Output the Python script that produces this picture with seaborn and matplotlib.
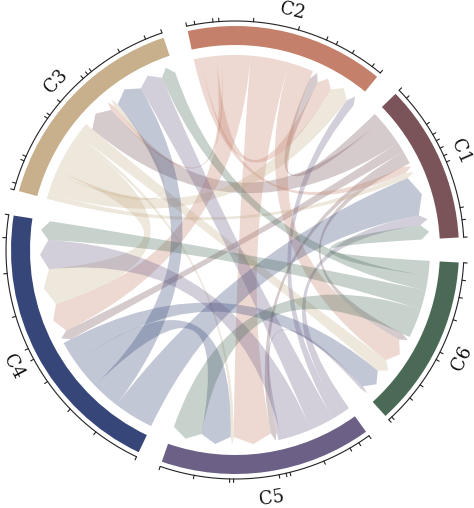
import numpy as np
import matplotlib
matplotlib.use("Agg")
import matplotlib.pyplot as plt
from matplotlib.path import Path
from matplotlib.patches import PathPatch, Wedge
import seaborn as sns

# ---------------- data ----------------
sectors = ["C1", "C2", "C3", "C4", "C5", "C6"]
sector_colors = ["#7a5458", "#c4806a", "#c8b08c", "#364678", "#6c6086", "#4a6a56"]
# directed flows: row = source, column = target (order C1..C6)
c1_out = [0.0, 2.7, 8.3, 3.0, 1.8, 2.1]
c2_out = [2.1, 4.6, 1.5, 8.7, 11.5, 7.5]
c3_out = [1.7, 6.0, 1.2, 11.0, 1.0, 4.2]
c4_out = [12.0, 0.0, 8.6, 0.0, 9.0, 6.6]
c5_out = [3.1, 2.6, 7.3, 9.0, 0.0, 1.0]
c6_out = [4.4, 0.0, 4.4, 5.8, 8.8, 0.0]
flows = np.array([c1_out, c2_out, c3_out, c4_out, c5_out, c6_out])

# ---------------- style ----------------
sns.set_theme(style="white")
plt.rcParams["font.family"] = ["DejaVu Serif"]
palette = sns.color_palette(sector_colors)

GAP = 6.4          # degrees between sectors
R_TRACK_OUT = 224
R_TRACK_IN = 205
R_AXIS = 229
TICK_LEN = 3.5
R_LINK = 195
ARROW_H = 8
R_LABEL = 246

n = len(sectors)
sizes = flows.sum(axis=1) + flows.sum(axis=0)
scale = (360 - n * GAP) / sizes.sum()

# sector layout: clockwise angles measured from top
order_cw = [5, 4, 3, 2, 1, 0]
start = {}
a = 90 + GAP / 2
for k in order_cw:
    start[k] = a
    a += sizes[k] * scale + GAP

# segment positions in each sector: outgoing (by target), then incoming (by source)
out_pos = {}
in_pos = {}
bounds = {k: [start[k]] for k in range(n)}
for k in range(n):
    cur = start[k]
    for j in range(n):
        v = flows[k, j]
        if v > 0:
            out_pos[(k, j)] = (cur, cur + v * scale)
            cur += v * scale
            bounds[k].append(cur)
    for i in range(n):
        v = flows[i, k]
        if v > 0:
            in_pos[(i, k)] = (cur, cur + v * scale)
            cur += v * scale
            bounds[k].append(cur)


def pt(theta, r):
    t = np.radians(theta)
    return (r * np.sin(t), r * np.cos(t))


def arc(a0, a1, r):
    m = max(2, int(abs(a1 - a0) * 3) + 2)
    return [pt(x, r) for x in np.linspace(a0, a1, m)]


fig = plt.figure(figsize=(4.74, 5.08), dpi=100)
ax = fig.add_axes([0, 0, 1, 1])
ax.set_xlim(-235, 239)
ax.set_ylim(-258, 250)
ax.set_aspect("equal")
ax.axis("off")

# chords
for i in range(n):
    for j in range(n):
        if flows[i, j] <= 0:
            continue
        s0, s1 = out_pos[(i, j)]
        t0, t1 = in_pos[(i, j)]
        verts = arc(s0, s1, R_LINK)
        codes = [Path.MOVETO] + [Path.LINETO] * (len(verts) - 1)
        verts += [(0, 0), pt(t0, R_LINK - ARROW_H)]
        codes += [Path.CURVE3, Path.CURVE3]
        verts += [pt((t0 + t1) / 2, R_LINK), pt(t1, R_LINK - ARROW_H)]
        codes += [Path.LINETO, Path.LINETO]
        verts += [(0, 0), pt(s0, R_LINK)]
        codes += [Path.CURVE3, Path.CURVE3]
        verts += [pt(s0, R_LINK)]
        codes += [Path.CLOSEPOLY]
        ax.add_patch(PathPatch(Path(verts, codes), facecolor=palette[i],
                               edgecolor="none", alpha=0.30, zorder=2))

# tracks, axes, ticks, labels
for k in range(n):
    a0 = start[k]
    a1 = a0 + sizes[k] * scale
    ax.add_patch(Wedge((0, 0), R_TRACK_OUT, 90 - a1, 90 - a0,
                       width=R_TRACK_OUT - R_TRACK_IN, facecolor=palette[k],
                       edgecolor="none", zorder=3))
    xs, ys = zip(*arc(a0, a1, R_AXIS))
    ax.plot(xs, ys, color="#222222", lw=0.8, zorder=4)
    for b in bounds[k]:
        p0 = pt(b, R_AXIS)
        p1 = pt(b, R_AXIS + TICK_LEN)
        ax.plot([p0[0], p1[0]], [p0[1], p1[1]], color="#222222", lw=0.8, zorder=4)
    mid = (a0 + a1) / 2
    rot = -mid
    if 90 < mid < 270:
        rot += 180
    r_lab = R_LABEL + (5 if 90 < mid < 270 else 0)
    lx, ly = pt(mid, r_lab)
    ax.text(lx, ly, sectors[k], rotation=rot, ha="center", va="center",
            fontsize=13, color="#111111", rotation_mode="anchor", zorder=5)

fig.savefig("out.png", dpi=100)
